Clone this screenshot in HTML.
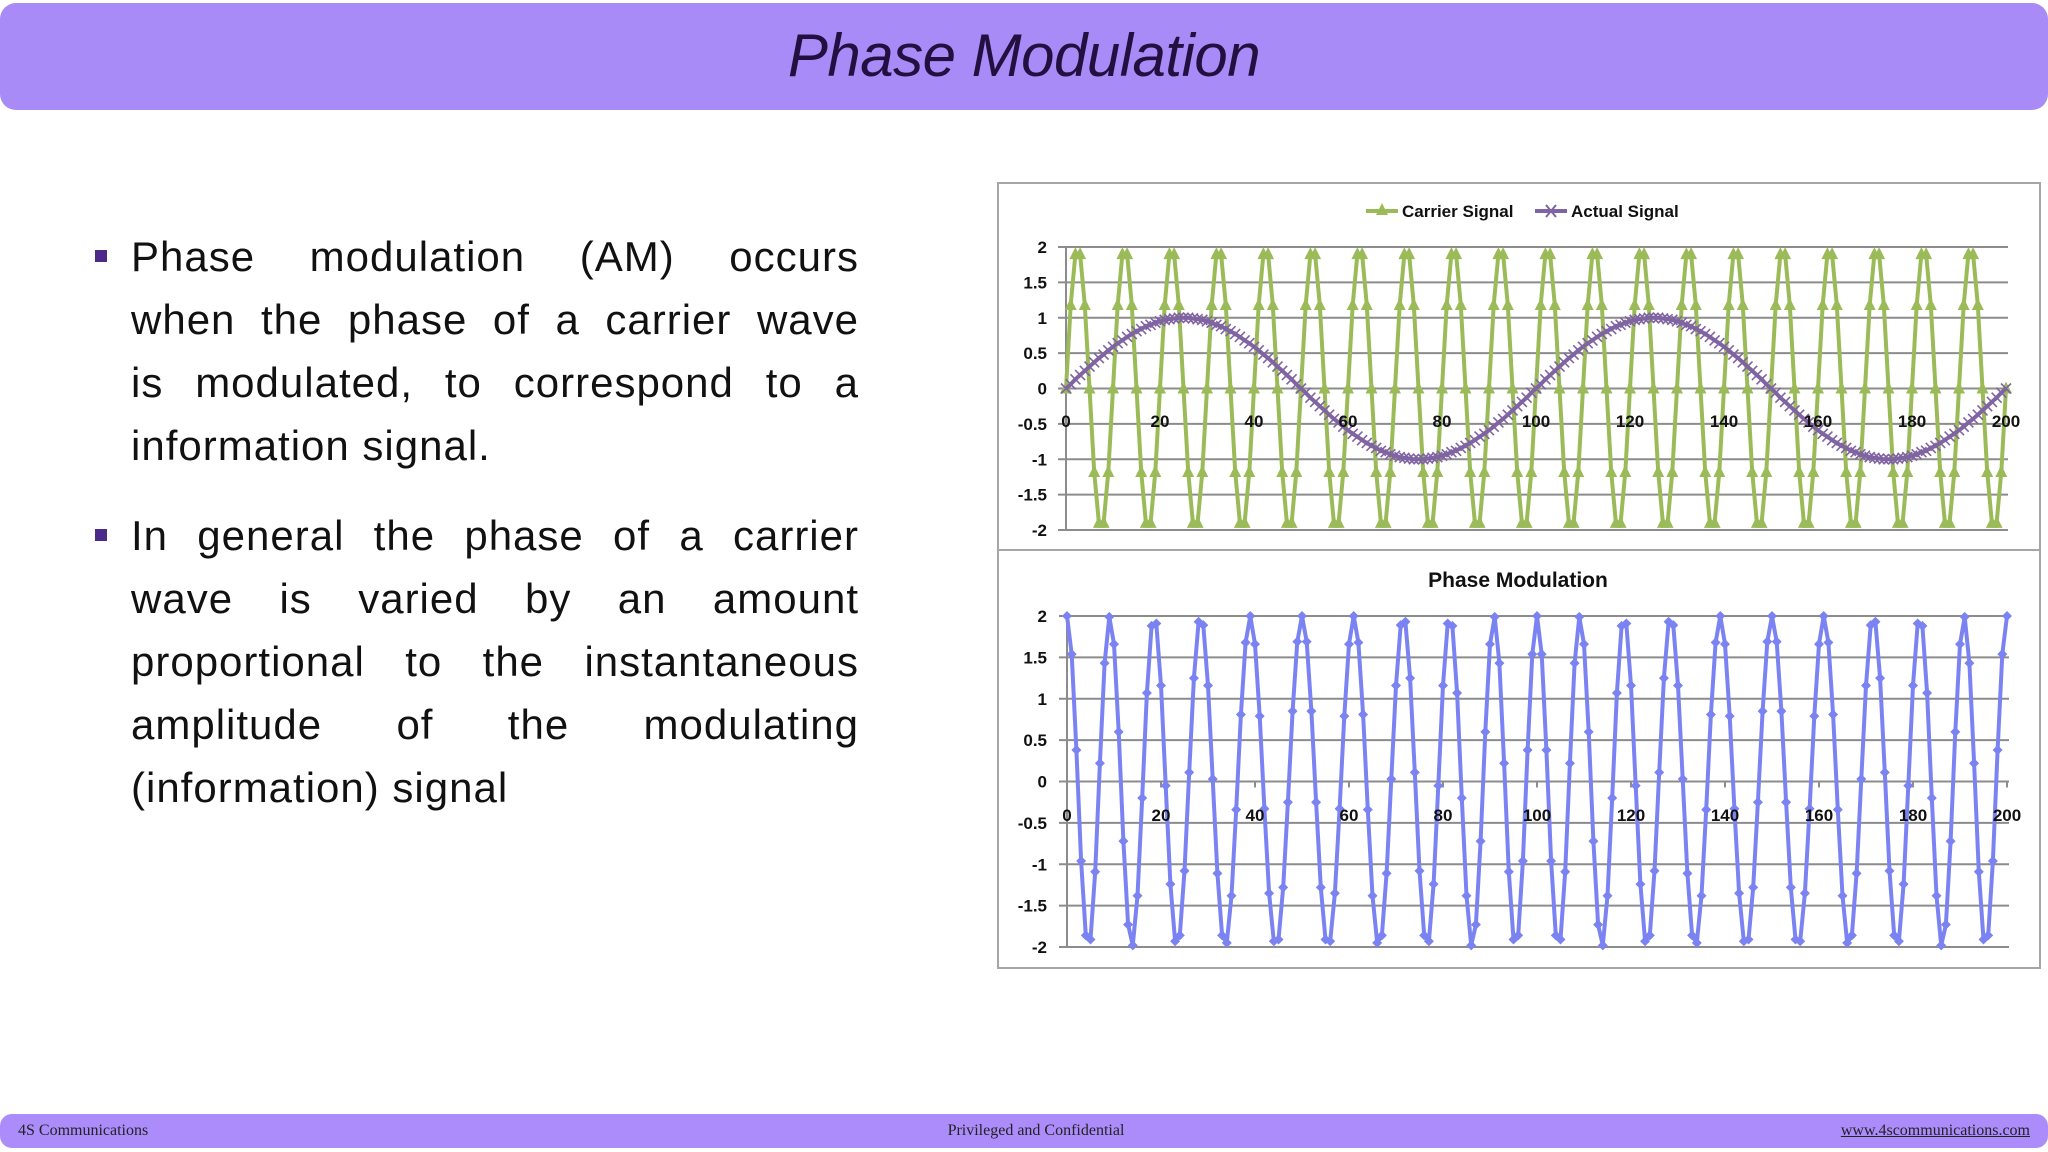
<!DOCTYPE html>
<html><head><meta charset="utf-8">
<style>
body{margin:0;width:2048px;height:1152px;background:#fff;position:relative;overflow:hidden;font-family:"Liberation Sans",sans-serif}
#title-bar{position:absolute;left:0;top:3px;width:2048px;height:107px;background:#a98bf8;border-radius:16px}
#title{position:absolute;left:0;width:2048px;top:18px;text-align:center;font-style:italic;font-size:60px;color:#241040;letter-spacing:-0.5px}
.bl{position:absolute;left:131px;width:728px;font-size:42px;color:#111;white-space:nowrap;text-align:justify;text-align-last:justify;line-height:63px;letter-spacing:1px}
.bl.last{text-align-last:left}
.sq{position:absolute;left:95px;width:12px;height:12px;background:#4b2a8a}
#footer{position:absolute;left:0;top:1114px;width:2048px;height:34px;background:#ac8cfb;border-radius:12px;font-family:"Liberation Serif",serif;font-size:16px;color:#222}
#footer span{position:absolute;top:8px}
</style></head><body>
<div id="title-bar"><div id="title">Phase Modulation</div></div>

<div class="sq" style="top:250px"></div>
<div class="bl" style="top:225px">Phase modulation (AM) occurs</div>
<div class="bl" style="top:288px">when the phase of a carrier wave</div>
<div class="bl" style="top:351px">is modulated, to correspond to a</div>
<div class="bl last" style="top:414px">information signal.</div>
<div class="sq" style="top:529px"></div>
<div class="bl" style="top:504px">In general the phase of a carrier</div>
<div class="bl" style="top:567px">wave is varied by an amount</div>
<div class="bl" style="top:630px">proportional to the instantaneous</div>
<div class="bl" style="top:693px">amplitude of the modulating</div>
<div class="bl last" style="top:756px">(information) signal</div>

<svg id="charts" width="2048" height="1152" style="position:absolute;left:0;top:0"></svg>

<div id="footer">
<span style="left:18px">4S Communications</span>
<span style="left:0;width:2072px;text-align:center">Privileged and Confidential</span>
<span style="right:18px;text-decoration:underline">www.4scommunications.com</span>
</div>

<script>
const xTicks=[0,20,40,60,80,100,120,140,160,180,200];
const yTicks=[2,1.5,1,0.5,0,-0.5,-1,-1.5,-2];
const carrierCycle=[0,1.18,1.9,1.9,1.18,0,-1.18,-1.9,-1.9,-1.18];
const carrier=[].concat(...Array(20).fill(carrierCycle),[0]);
const actualHalf=[0,.06,.13,.19,.25,.31,.37,.43,.48,.54,.59,.64,.68,.73,.77,.81,.84,.88,.9,.93,.95,.97,.98,.99,1,1,1,.99,.98,.97,.95,.93,.9,.88,.84,.81,.77,.73,.68,.64,.59,.54,.48,.43,.37,.31,.25,.19,.13,.06,0];
const actualCycle=actualHalf.concat(actualHalf.slice(1).map(v=>-v));
const actual=actualCycle.concat(actualCycle.slice(1));
const pmCycle=[2,1.54,.38,-.96,-1.86,-1.91,-1.09,.22,1.43,1.99,1.66,.6,-.72,-1.73,-1.98,-1.38,-.2,1.07,1.88,1.91,1.16,-.05,-1.24,-1.93,-1.86,-1.08,.11,1.25,1.93,1.89,1.16,.03,-1.11,-1.86,-1.95,-1.38,-.34,.81,1.68,2,1.66,.79,-.33,-1.35,-1.93,-1.91,-1.28,-.25,.85,1.69,2,1.69,.85,-.25,-1.28,-1.91,-1.93,-1.35,-.33,.79,1.66,2,1.68,.81,-.34,-1.38,-1.95,-1.86,-1.11,.03,1.16,1.89,1.93,1.25,.11,-1.08,-1.86,-1.93,-1.24,-.05,1.16,1.91,1.88,1.07,-.2,-1.38,-1.98,-1.73,-.72,.6,1.66,1.99,1.43,.22,-1.09,-1.91,-1.86,-.96,.38,1.54,2];
const phaseMod=pmCycle.concat(pmCycle.slice(1));

const svg=document.getElementById('charts');
const NS='http://www.w3.org/2000/svg';
function mk(tag,attrs,parent){const e=document.createElementNS(NS,tag);for(const k in attrs)e.setAttribute(k,attrs[k]);(parent||svg).appendChild(e);return e;}

const box=mk('rect',{x:998,y:183,width:1042,height:785,fill:'#fff',stroke:'#a6a6a6','stroke-width':2});


const div=mk('line',{x1:998,x2:2040,y1:550,y2:550,stroke:'#a6a6a6','stroke-width':2});



function chart(name,x0,x1,yTop,yBot,xLabY){
  const g=mk('g',{});
  
  
  const sx=v=>x0+(v-0)/(200-0)*(x1-x0);
  const sy=v=>yTop+(2-v)/4*(yBot-yTop);
  const labels=[];
  yTicks.forEach(t=>{
    const l=mk('line',{x1:x0-8,x2:x1+2,y1:sy(t),y2:sy(t),stroke:'#8c8c8c','stroke-width':2},g);
    
    
    const tx=mk('text',{x:1047,y:sy(t)+6,'text-anchor':'end','font-size':17,'font-weight':'bold',fill:'#111'},g);
    tx.textContent=t;
    
    
  });
  const ax=mk('line',{x1:x0,x2:x0,y1:yTop,y2:yBot,stroke:'#8c8c8c','stroke-width':2},g);
  
  
  xTicks.forEach(t=>{
    const tk=mk('line',{x1:sx(t),x2:sx(t),y1:sy(0),y2:sy(0)+6,stroke:'#8c8c8c','stroke-width':2},g);
    
    
    const tx=mk('text',{x:sx(t),y:xLabY,'text-anchor':'middle','font-size':17,'font-weight':'bold',fill:'#111'},g);
    tx.textContent=t;
    
    
    labels.push(tx);
  });
  return {g,sx,sy,labels};
}
function series(c,data,color,marker,name){
  const pts=data.map((v,i)=>c.sx(i).toFixed(1)+','+c.sy(v).toFixed(1)).join(' ');
  const pl=mk('polyline',{points:pts,fill:'none',stroke:color,'stroke-width':4,'stroke-linejoin':'round'},c.g);
  
  
  data.forEach((v,i)=>{
    const x=c.sx(i),y=c.sy(v);let m;
    if(marker==='tri')m=mk('polygon',{points:`${x},${y-7} ${x-6},${y+5} ${x+6},${y+5}`,fill:color},c.g);
    else if(marker==='x')m=mk('path',{d:`M${x-5},${y-5}L${x+5},${y+5}M${x-5},${y+5}L${x+5},${y-5}`,stroke:color,'stroke-width':1.6},c.g);
    else m=mk('polygon',{points:`${x},${y-5} ${x+5},${y} ${x},${y+5} ${x-5},${y}`,fill:color},c.g);
    
    
  });
}
const c1=chart('carrier-actual-chart',1066,2006,247,530,427);
series(c1,carrier,'#9bbb59','tri','carrier-signal');
series(c1,actual,'#8064a2','x','actual-signal');
c1.labels.forEach(l=>c1.g.appendChild(l));
// legend
const lg=mk('g',{});


const l1=mk('line',{x1:1366,x2:1398,y1:211,y2:211,stroke:'#9bbb59','stroke-width':4},lg);


mk('polygon',{points:'1382,203 1376,215 1388,215',fill:'#9bbb59'},lg);
const t1=mk('text',{x:1402,y:217,'font-size':17,'font-weight':'bold',fill:'#111'},lg);t1.textContent='Carrier Signal';


const l2=mk('line',{x1:1535,x2:1567,y1:211,y2:211,stroke:'#8064a2','stroke-width':4},lg);


mk('path',{d:'M1546,205L1556,217M1546,217L1556,205',stroke:'#8064a2','stroke-width':2},lg);
const t2=mk('text',{x:1571,y:217,'font-size':17,'font-weight':'bold',fill:'#111'},lg);t2.textContent='Actual Signal';



const c2=chart('phase-modulation-chart',1067,2007,616,947,821);
const tt=mk('text',{x:1518,y:587,'text-anchor':'middle','font-size':21,'font-weight':'bold',fill:'#111'});
tt.textContent='Phase Modulation';


series(c2,phaseMod,'#7b83f2','dia','phase-modulation');
c2.labels.forEach(l=>c2.g.appendChild(l));
</script>
</body></html>
